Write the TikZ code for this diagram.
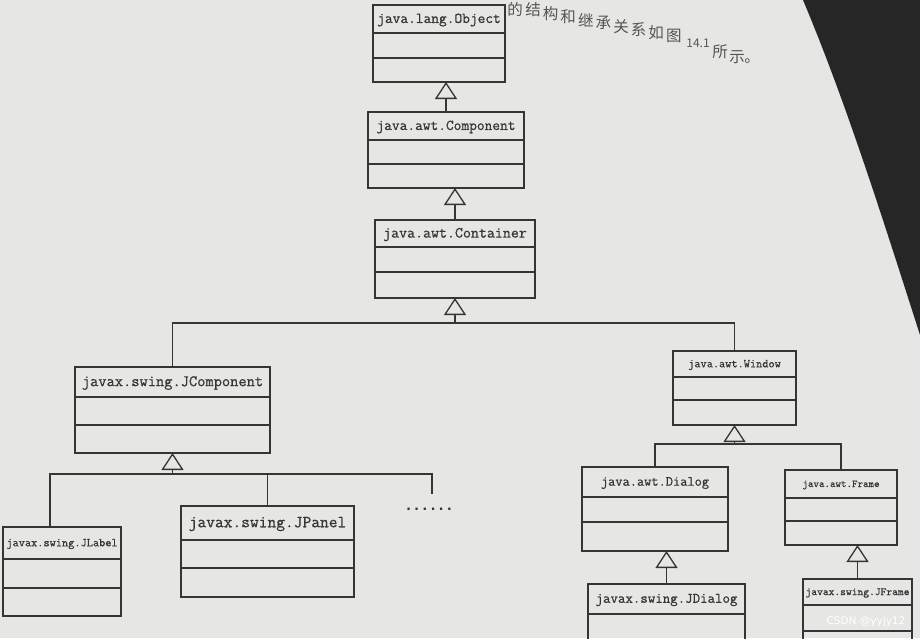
\documentclass[tikz,border=0pt]{standalone}
\usepackage{fontspec}
\newfontfamily\cjk{Noto Sans CJK SC}
\newfontfamily\wmfont{DejaVu Sans}
\newfontfamily\boxfont[FakeBold=0.7]{Latin Modern Mono}
\newfontfamily\dotfont{DejaVu Sans Mono Bold}
\usetikzlibrary{arrows.meta,calc}
\definecolor{paper}{HTML}{E6E6E4}
\definecolor{ink}{HTML}{353535}
\definecolor{corner}{HTML}{262626}
\definecolor{pagetext}{HTML}{555555}
\tikzset{
  classbox/.style={draw=ink, line width=1.2pt, inner sep=0pt, outer sep=0pt},
  divider/.style={draw=ink, line width=1.1pt},
  inh/.style={draw=ink, line width=1.1pt, -{Triangle[open, length=17pt, width=22pt, line width=1.3pt]}},
  link/.style={draw=ink, line width=1.1pt},
  cname/.style={text=ink, inner sep=0pt},
  cjktext/.style={text=pagetext, inner sep=0pt, font=\fontsize{15.5}{15.5}\selectfont\cjk}
}
\newcommand{\umlclass}[9]{%
  \node[classbox, minimum width={#4pt-#2pt}, minimum height={#5pt-#3pt}] (#1) at ({(#2+#4)/2},{(#3+#5)/2}) {};
  \draw[divider] (#2,#6) -- (#4,#6);
  \draw[divider] (#2,#7) -- (#4,#7);
  \node[cname, font=\fontsize{#8}{#8}\selectfont\boxfont] (#1-name) at ({(#2+#4)/2},{(#3+#6)/2+1}) {#9};
}
\begin{document}
\begin{tikzpicture}[x=1pt,y=-1pt]
\useasboundingbox (0,0) rectangle (920,638);
\clip (0,0) rectangle (920,638);
\fill[paper] (0,0) rectangle (920,638);
\fill[corner] (803,0) .. controls (845,100) and (880,210) .. (920,335) -- (920,0) -- cycle;

% page text fragment, running down to the right
\node[cjktext] (cn-a) at (515,9) {的};
\foreach \c [count=\i from 0] in {结,构,和,继,承,关,系,如,图}
  \node[cjktext] (cn\i) at ({533+17.6*\i},{10+3.3*\i}) {\c};
\node[cjktext, font=\fontsize{12}{12}\selectfont\cjk] (cn-num) at (698,43) {14.1};
\node[cjktext] (cn-b) at (720,52) {所};
\node[cjktext] (cn-c) at (737,57) {示};
\node[cjktext] (cn-d) at (752,61) {。};

\umlclass{obj}{373}{5}{505}{82}{33}{58}{15}{java.lang.Object}
\umlclass{comp}{368}{112}{524}{188}{140}{164}{15}{java.awt.Component}
\umlclass{cont}{375}{220}{535}{298}{247}{272}{15.5}{java.awt.Container}
\umlclass{jcomp}{75}{367}{270}{453}{397}{425}{16}{javax.swing.JComponent}
\umlclass{win}{673}{351}{796}{425}{377}{400}{12}{java.awt.Window}
\umlclass{jlabel}{3}{527}{121}{616}{559}{588}{12}{javax.swing.JLabel}
\umlclass{jpanel}{181}{506}{354}{597}{540}{568}{17}{javax.swing.JPanel}
\umlclass{dialog}{582}{467}{728}{551}{497}{522}{14}{java.awt.Dialog}
\umlclass{frame}{785}{470}{897}{545}{498}{521}{10.5}{java.awt.Frame}
\umlclass{jdialog}{588}{584}{745}{668}{614}{642}{14.5}{javax.swing.JDialog}
\umlclass{jframe}{803}{579}{912}{660}{605}{631}{11}{javax.swing.JFrame}

% Object <- Component <- Container
\draw[inh] (comp.north) -- (comp.north |- obj.south);
\draw[inh] (cont.north) -- (cont.north |- comp.south);

% Container <- JComponent, Window
\coordinate (bar1) at (455,323);
\draw[inh] (bar1) -- (cont.south);
\draw[link] (jcomp.north) |- (bar1) -| (win.north);

% JComponent <- JLabel, JPanel, ...
\coordinate (bar2) at (172.5,474);
\coordinate (jlabtop) at ([xshift=-12pt]jlabel.north);
\coordinate (more) at (432,494);
\draw[inh] (bar2) -- (jcomp.south);
\draw[link] (jlabtop) |- (bar2) -| (more);
\draw[link] (jpanel.north) -- (jpanel.north |- bar2);
\node[cname, font=\fontsize{13.5}{13.5}\selectfont\dotfont] (dots) at (429,509) {......};

% Window <- Dialog, Frame
\coordinate (bar3) at (734.5,444);
\draw[inh] (bar3) -- (win.south);
\draw[link] (dialog.north) |- (bar3) -| (frame.north);

% Dialog <- JDialog ; Frame <- JFrame
\draw[inh] (jdialog.north) -- (jdialog.north |- dialog.south);
\draw[inh] (jframe.north) -- (jframe.north |- frame.south);

\node[text=white, font=\fontsize{10.5}{10.5}\selectfont\wmfont] (wm) at (866,622) {CSDN @yyjy12};
\end{tikzpicture}
\end{document}
